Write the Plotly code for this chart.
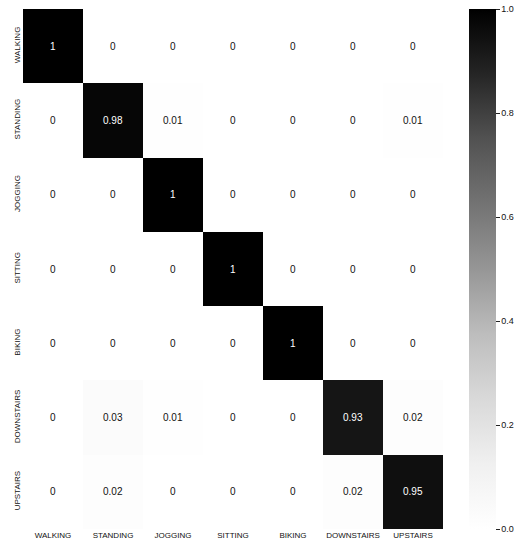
import plotly.graph_objects as go

labels = ["WALKING", "STANDING", "JOGGING", "SITTING", "BIKING", "DOWNSTAIRS", "UPSTAIRS"]

walking = [1, 0, 0, 0, 0, 0, 0]
standing = [0, 0.98, 0.01, 0, 0, 0, 0.01]
jogging = [0, 0, 1, 0, 0, 0, 0]
sitting = [0, 0, 0, 1, 0, 0, 0]
biking = [0, 0, 0, 0, 1, 0, 0]
downstairs = [0, 0.03, 0.01, 0, 0, 0.93, 0.02]
upstairs = [0, 0.02, 0, 0, 0, 0.02, 0.95]

matrix = [walking, standing, jogging, sitting, biking, downstairs, upstairs]

cbar_ticks = [0.0, 0.2, 0.4, 0.6, 0.8, 1.0]

# matplotlib "Greys"
greys = [
    [0.0, "#ffffff"], [0.125, "#f0f0f0"], [0.25, "#d9d9d9"],
    [0.375, "#bdbdbd"], [0.5, "#969696"], [0.625, "#737373"],
    [0.75, "#525252"], [0.875, "#252525"], [1.0, "#000000"],
]

fig = go.Figure(go.Heatmap(
    z=matrix, x=labels, y=labels,
    zmin=0, zmax=1,
    colorscale=greys,
    colorbar=dict(
        x=1.062, xanchor="left", xpad=0,
        y=0.5, len=1, lenmode="fraction", ypad=0,
        thickness=27, outlinewidth=0,
        tickmode="array", tickvals=cbar_ticks,
        ticktext=[f"{t:.1f}" for t in cbar_ticks],
        ticks="outside", ticklen=4, tickcolor="#222",
        tickfont=dict(family="Liberation Sans, Arial", size=9, color="#111"),
    ),
))

# cell annotations, white on dark cells
for i, row in enumerate(matrix):
    for j, v in enumerate(row):
        fig.add_annotation(
            x=labels[j], y=labels[i], text=f"{v:g}", showarrow=False,
            font=dict(family="Liberation Sans, Arial", size=10,
                      color="#ffffff" if v > 0.5 else "#111111"),
        )

fig.update_layout(
    width=523, height=550,
    margin=dict(l=23, r=80, t=9, b=21, autoexpand=False),
    paper_bgcolor="white", plot_bgcolor="white",
    font=dict(family="Liberation Sans, Arial", size=8, color="#111"),
    xaxis=dict(showgrid=False, zeroline=False, ticks="", automargin=False,
               tickfont=dict(size=8, color="#111")),
    yaxis=dict(showgrid=False, zeroline=False, ticks="", autorange="reversed",
               automargin=False, tickangle=-90, tickfont=dict(size=8, color="#111")),
)

# page body has a default 8px margin; drop it so the figure sits at 0,0
fig.write_html("out.html", config={"displayModeBar": False},
               post_script="document.body.style.margin='0';")
